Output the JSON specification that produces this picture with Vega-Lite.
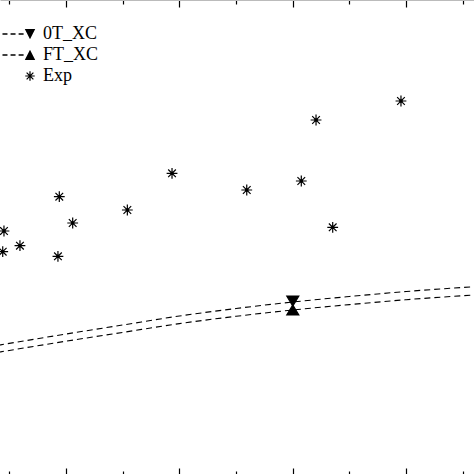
{
  "$schema": "https://vega.github.io/schema/vega-lite/v6.json",
  "width": 474,
  "height": 475,
  "autosize": "none",
  "padding": 0,
  "config": {"view": {"stroke": null}, "font": "Liberation Serif"},
  "datasets": {
    "curves": [
      {"series": "0T_XC", "x": 0.4, "y": 12.97},
      {"series": "0T_XC", "x": 1.0, "y": 14.1},
      {"series": "0T_XC", "x": 1.5, "y": 15.0},
      {"series": "0T_XC", "x": 2.0, "y": 15.9},
      {"series": "0T_XC", "x": 2.5, "y": 16.65},
      {"series": "0T_XC", "x": 3.0, "y": 17.3},
      {"series": "0T_XC", "x": 3.5, "y": 17.85},
      {"series": "0T_XC", "x": 4.0, "y": 18.35},
      {"series": "0T_XC", "x": 4.6, "y": 18.83},
      {"series": "FT_XC", "x": 0.4, "y": 12.27},
      {"series": "FT_XC", "x": 1.0, "y": 13.38},
      {"series": "FT_XC", "x": 1.5, "y": 14.26},
      {"series": "FT_XC", "x": 2.0, "y": 15.14},
      {"series": "FT_XC", "x": 2.5, "y": 15.87},
      {"series": "FT_XC", "x": 3.0, "y": 16.5},
      {"series": "FT_XC", "x": 3.5, "y": 17.04},
      {"series": "FT_XC", "x": 4.0, "y": 17.53},
      {"series": "FT_XC", "x": 4.6, "y": 18.0}
    ],
    "points": [
      {"series": "0T_XC", "x": 3.0, "y": 17.4},
      {"series": "FT_XC", "x": 3.0, "y": 16.5},
      {"series": "Exp", "x": 0.453, "y": 24.4},
      {"series": "Exp", "x": 0.442, "y": 22.33},
      {"series": "Exp", "x": 0.594, "y": 22.93},
      {"series": "Exp", "x": 0.941, "y": 27.83},
      {"series": "Exp", "x": 1.059, "y": 25.2},
      {"series": "Exp", "x": 0.929, "y": 21.87},
      {"series": "Exp", "x": 1.541, "y": 26.5},
      {"series": "Exp", "x": 1.935, "y": 30.17},
      {"series": "Exp", "x": 2.594, "y": 28.5},
      {"series": "Exp", "x": 3.075, "y": 29.4},
      {"series": "Exp", "x": 3.205, "y": 35.5},
      {"series": "Exp", "x": 3.352, "y": 24.77},
      {"series": "Exp", "x": 3.954, "y": 37.4}
    ]
  },
  "layer": [
    {
      "data": {"name": "curves"},
      "mark": {"type": "line", "color": "black", "strokeDash": [6, 4], "strokeWidth": 1.1, "interpolate": "monotone", "clip": true},
      "encoding": {
        "detail": {"field": "series"},
        "x": {"field": "x", "type": "quantitative", "scale": {"domain": [0.418, 4.598], "nice": false, "zero": false},
          "axis": {"orient": "top", "values": [0.5, 1, 1.5, 2, 2.5, 3, 3.5, 4, 4.5], "labels": false, "title": null, "grid": false,
            "domain": true, "domainColor": "#bbbbbb", "domainWidth": 1, "tickColor": "black", "tickWidth": 1.2,
            "tickSize": {"condition": {"test": "datum.value % 1 === 0", "value": -7}, "value": -4}}},
        "y": {"field": "y", "type": "quantitative", "scale": {"domain": [0, 47.5], "nice": false, "zero": false}, "axis": null}
      }
    },
    {
      "data": {"name": "points"},
      "transform": [{"filter": "datum.series == 'none'"}],
      "mark": {"type": "point", "filled": true, "color": "black", "size": 90, "opacity": 1},
      "encoding": {
        "x": {"field": "x", "type": "quantitative",
          "axis": {"orient": "bottom", "values": [0.5, 1, 1.5, 2, 2.5, 3, 3.5, 4, 4.5], "labels": false, "title": null, "grid": false,
            "domain": false, "tickColor": "black", "tickWidth": 1.2,
            "tickSize": {"condition": {"test": "datum.value % 1 === 0", "value": -7}, "value": -4}}},
        "y": {"field": "y", "type": "quantitative", "axis": null},
        "shape": {"field": "series", "type": "nominal",
          "scale": {"domain": ["0T_XC", "FT_XC", "Exp"],
            "range": [
              "M-5.8,-0.14H-4.75V0.14H-5.8ZM-4.1,-0.14H-3.05V0.14H-4.1ZM-2.4,-0.14H-1.35V0.14H-2.4ZM-1.1,-1.05L1.1,-1.05L0,1.1Z",
              "M-5.8,-0.14H-4.75V0.14H-5.8ZM-4.1,-0.14H-3.05V0.14H-4.1ZM-2.4,-0.14H-1.35V0.14H-2.4ZM-1.1,1.05L0,-1.1L1.1,1.05Z",
              "M-0.13,-1H0.13V1H-0.13ZM-1,-0.13H1V0.13H-1ZM-0.618,-0.802L0.802,0.618L0.618,0.802L-0.802,-0.618ZM-0.802,0.618L0.618,-0.802L0.802,-0.618L-0.618,0.802ZM-0.25,-0.25H0.25V0.25H-0.25Z"
            ]},
          "legend": {"orient": "none", "legendX": 21, "legendY": 25, "title": null, "padding": 0,
            "labelFont": "Liberation Serif", "labelFontSize": 18, "labelColor": "black", "labelOffset": 4,
            "symbolSize": 90, "rowPadding": 3, "symbolFillColor": "black", "symbolOpacity": 1}}
      }
    },
    {
      "data": {"name": "points"},
      "mark": {"type": "point", "filled": true, "fill": "black", "stroke": "black", "strokeWidth": 1.2, "size": 144, "opacity": 1},
      "encoding": {
        "x": {"field": "x", "type": "quantitative", "axis": null},
        "y": {"field": "y", "type": "quantitative", "axis": null},
        "shape": {"field": "series", "type": "nominal", "legend": null,
          "scale": {"domain": ["0T_XC", "FT_XC", "Exp"],
            "range": [
              "M-1,-0.83L1,-0.83L0,0.83Z",
              "M-1,0.83L1,0.83L0,-0.83Z",
              "M0,-0.9V0.9M-0.9,0H0.9M-0.64,-0.64L0.64,0.64M-0.64,0.64L0.64,-0.64M-0.2,-0.2H0.2V0.2H-0.2Z"
            ]}}
      }
    }
  ],
  "resolve": {"axis": {"x": "independent"}, "scale": {"shape": "independent"}}
}
